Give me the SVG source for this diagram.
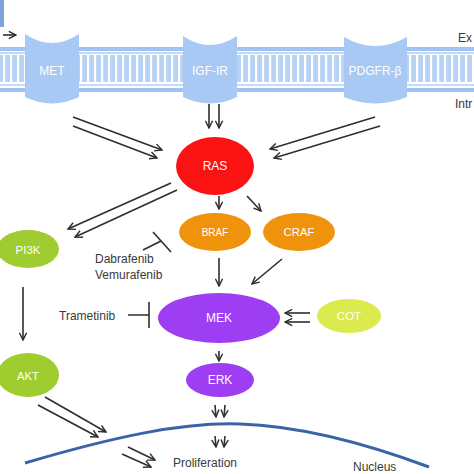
<svg xmlns="http://www.w3.org/2000/svg" width="474" height="474" viewBox="0 0 474 474">
<defs>
<style>
.lbl{font-family:"Liberation Sans",Arial,sans-serif;font-size:12px;fill:#3a3a3a}
.nt{font-family:"Liberation Sans",Arial,sans-serif;font-size:12px;fill:#ffffff;text-anchor:middle;dominant-baseline:central}
.rc{fill:#a7c9f4}
.ln{stroke:#2e2e2e;stroke-width:1.6;fill:none}
.ar{stroke:#2e2e2e;stroke-width:1.6;fill:none;marker-end:url(#ah)}
</style>
<marker id="ah" viewBox="0 0 10 10" refX="9" refY="5" markerWidth="9" markerHeight="9" markerUnits="userSpaceOnUse" orient="auto">
<path d="M1,1 L9,5 L1,9" fill="none" stroke="#2e2e2e" stroke-width="1.6"/>
</marker>
<pattern id="lad" x="0" y="0" width="7" height="27" patternUnits="userSpaceOnUse">
<rect width="7" height="27" fill="#b6d2f5"/>
<rect x="3" width="2.2" height="27" fill="#ffffff"/>
</pattern>
</defs>
<rect width="474" height="474" fill="#ffffff"/>
<g id="membrane">
<rect x="0" y="47" width="474" height="4" fill="#9fc3f2"/>
<rect x="0" y="52" width="474" height="2" fill="#c4dbf7"/>
<rect x="0" y="55" width="474" height="27" fill="url(#lad)"/>
<rect x="0" y="84" width="474" height="2" fill="#c4dbf7"/>
<rect x="0" y="88" width="474" height="4" fill="#9fc3f2"/>
</g>
<rect x="0" y="0" width="4" height="27" fill="#7fa3dc"/>
<g id="MET"><path class="rc" d="M25,34 Q52,52 79,34 L79,97 Q52,110 25,97 Z"/><text class="nt" x="52" y="71">MET</text></g>
<g id="IGF-IR"><path class="rc" d="M183,36 Q210,54 237,36 L237,97 Q210,110 183,97 Z"/><text class="nt" x="210" y="71">IGF-IR</text></g>
<g id="PDGFR"><path class="rc" d="M344,37 Q375,55 407,37 L407,97 Q375,110 344,97 Z"/><text class="nt" x="375" y="71">PDGFR-β</text></g>
<text class="lbl" x="458" y="42">Ex</text>
<text class="lbl" x="455" y="108">Intr</text>
<g id="nucleus"><path d="M25,463 C110,438 180,422 240,424 C300,426 370,445 429,467" fill="none" stroke="#3b64a6" stroke-width="3"/></g>
<text class="lbl" x="353" y="471">Nucleus</text>
<text class="lbl" x="173" y="467">Proliferation</text>
<g id="RAS"><ellipse cx="215" cy="166" rx="39" ry="29" fill="#fb1313"/><text class="nt" x="215" y="166">RAS</text></g>
<g id="BRAF"><ellipse cx="215" cy="232" rx="36" ry="19" fill="#f0930c"/><text class="nt" x="215" y="232" style="font-size:10px">BRAF</text></g>
<g id="CRAF"><ellipse cx="299" cy="232" rx="36" ry="19" fill="#f0930c"/><text class="nt" x="299" y="232" style="font-size:11.3px">CRAF</text></g>
<g id="MEK"><ellipse cx="219" cy="318" rx="61" ry="25" fill="#9e3ef2"/><text class="nt" x="219" y="318">MEK</text></g>
<g id="ERK"><ellipse cx="220" cy="380" rx="34" ry="17" fill="#9e3ef2"/><text class="nt" x="220" y="380">ERK</text></g>
<g id="COT"><ellipse cx="349" cy="316" rx="32" ry="17" fill="#dbea4c"/><text class="nt" x="349" y="316" style="font-size:11.5px">COT</text></g>
<g id="PI3K"><ellipse cx="28" cy="249" rx="31" ry="19" fill="#9fcc2e"/><text class="nt" x="28" y="250" style="font-size:11.5px">PI3K</text></g>
<g id="AKT"><ellipse cx="28" cy="375" rx="31" ry="22" fill="#9fcc2e"/><text class="nt" x="28" y="376" style="font-size:11.3px">AKT</text></g>
<text class="lbl" x="95" y="263">Dabrafenib</text>
<text class="lbl" x="95" y="279">Vemurafenib</text>
<text class="lbl" x="59" y="320">Trametinib</text>
<g id="connectors">
<path class="ar" d="M3,35 L16,35"/>
<path class="ar" d="M73,117 L162,150"/>
<path class="ar" d="M73,126 L157,158"/>
<path class="ar" d="M375,117 L270,149"/>
<path class="ar" d="M380,126 L274,158"/>
<path class="ar" d="M209,104 L209,128"/>
<path class="ar" d="M219,104 L219,128"/>
<path class="ar" d="M171,183 L68,229"/>
<path class="ar" d="M177,190 L75,237"/>
<path class="ar" d="M219,196 L219,209"/>
<path class="ar" d="M247,196 L261,211"/>
<path class="ar" d="M219,258 L219,286"/>
<path class="ar" d="M282,259 L252,284"/>
<path class="ln" d="M143,250 L161,241 M153,232 L171,252"/>
<path class="ln" d="M128,315 L149,315 M149,302 L149,328"/>
<path class="ar" d="M310,313 L285,313"/>
<path class="ar" d="M310,322 L285,322"/>
<path class="ar" d="M219,351 L219,361"/>
<path class="ar" d="M23,287 L23,340"/>
<path class="ar" d="M215,405 L216,417"/>
<path class="ar" d="M225,405 L224,417"/>
<path class="ar" d="M215,436 L216,447"/>
<path class="ar" d="M225,436 L224,447"/>
<path class="ar" d="M45,397 L106,432"/>
<path class="ar" d="M38,405 L98,437"/>
<path class="ar" d="M128,447 L155,460"/>
<path class="ar" d="M122,454 L151,467"/>
</g>
</svg>
